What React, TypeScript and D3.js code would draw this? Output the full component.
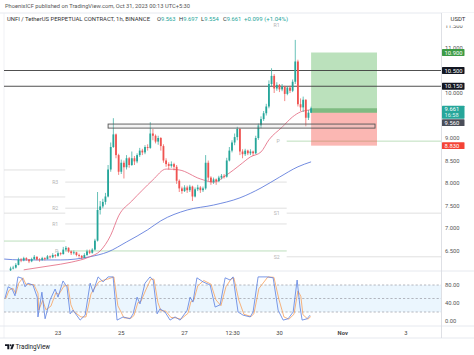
import React from "react";
import * as d3 from "d3";

const W = 474;
const H = 355;
const FONT = "Roboto, 'Liberation Sans', Arial, sans-serif";
const UTC = (m: number, d: number, h = 0, mi = 0) => new Date(Date.UTC(2023, m, d, h, mi));

// ---------- data ----------
const firstCandle = UTC(9, 21, 12); // 2h steps
const stepHours = 2;
const firstOpen = 6.06;
const closes = [
  6.10, 6.12, 6.18, 6.30, 6.28, 6.33, 6.30, 6.26, 6.31, 6.36,
  6.30, 6.29, 6.33, 6.31, 6.37, 6.35, 6.40, 6.38, 6.44, 6.42,
  6.52, 6.56, 6.48, 6.44, 6.46, 6.40, 6.38, 6.34, 6.40, 6.48,
  6.45, 6.52, 6.72, 7.40, 7.48, 7.58, 7.70, 8.30, 8.80, 9.08,
  8.62, 8.25, 8.45, 8.35, 8.55, 8.40, 8.55, 8.48, 8.62, 8.72,
  8.68, 8.80, 8.78, 9.10, 9.05, 8.92, 9.00, 8.82, 8.50, 8.42,
  8.38, 8.42, 8.36, 8.05, 7.88, 7.82, 7.90, 7.84, 7.92, 7.70,
  7.86, 7.90, 7.84, 7.88, 8.45, 8.12, 8.02, 8.08, 8.04, 8.12,
  8.16, 8.14, 8.50, 8.72, 8.90, 9.02, 9.20, 8.70, 8.64, 8.72,
  8.66, 8.70, 8.66, 9.00, 9.28, 9.42, 9.55, 9.70, 10.20, 10.38,
  10.10, 10.18, 10.08, 10.14, 9.98, 10.12, 10.05, 10.25, 10.70, 9.75,
  9.68, 9.85, 9.45, 9.563, 9.661,
];
const highs = [
  6.14, 6.16, 6.22, 6.34, 6.33, 6.36, 6.35, 6.31, 6.34, 6.40,
  6.37, 6.33, 6.36, 6.35, 6.40, 6.39, 6.44, 6.42, 6.48, 6.46,
  6.58, 6.60, 6.57, 6.50, 6.50, 6.47, 6.43, 6.40, 6.44, 6.52,
  6.52, 6.55, 6.76, 7.80, 7.60, 7.65, 7.78, 8.40, 8.90, 9.44,
  9.10, 8.65, 8.52, 8.50, 8.62, 8.58, 8.70, 8.60, 8.66, 8.78,
  8.76, 8.84, 8.86, 9.35, 9.20, 9.08, 9.05, 9.02, 8.86, 8.55,
  8.46, 8.48, 8.45, 8.40, 8.08, 7.92, 7.95, 7.94, 7.96, 7.94,
  7.90, 7.96, 7.93, 7.92, 8.62, 8.50, 8.15, 8.12, 8.10, 8.16,
  8.20, 8.20, 8.56, 8.80, 8.95, 9.10, 9.25, 9.22, 8.75, 8.76,
  8.74, 8.75, 8.72, 9.05, 9.32, 9.48, 9.60, 9.76, 10.28, 10.55,
  10.42, 10.24, 10.20, 10.20, 10.16, 10.15, 10.16, 10.30, 11.18, 10.74,
  9.88, 9.92, 9.86, 9.62, 9.697,
];
const lows = [
  6.04, 6.08, 6.10, 6.17, 6.24, 6.26, 6.27, 6.22, 6.24, 6.29,
  6.28, 6.25, 6.27, 6.28, 6.30, 6.32, 6.33, 6.34, 6.36, 6.39,
  6.41, 6.48, 6.45, 6.40, 6.41, 6.37, 6.34, 6.31, 6.33, 6.38,
  6.42, 6.43, 6.50, 6.70, 7.30, 7.44, 7.52, 7.68, 8.25, 8.78,
  8.55, 8.18, 8.20, 8.10, 8.30, 8.34, 8.38, 8.40, 8.44, 8.58,
  8.62, 8.64, 8.72, 8.76, 8.95, 8.88, 8.85, 8.72, 8.45, 8.36,
  8.30, 8.34, 8.28, 7.98, 7.80, 7.76, 7.80, 7.78, 7.80, 7.60,
  7.68, 7.82, 7.78, 7.80, 7.85, 8.05, 7.96, 7.98, 7.96, 8.02,
  8.08, 8.10, 8.12, 8.48, 8.68, 8.84, 8.95, 8.62, 8.55, 8.60,
  8.62, 8.62, 8.60, 8.64, 8.96, 9.22, 9.38, 9.50, 9.66, 10.15,
  10.00, 10.05, 10.02, 10.04, 9.82, 9.95, 10.00, 10.02, 10.20, 9.70,
  9.60, 9.58, 9.26, 9.40, 9.554,
];

const emaFastIdx = [5, 15, 23, 30, 34, 38, 41, 46, 50, 54, 59, 64, 72, 77, 82, 87, 91, 95, 98, 103, 107, 110, 113, 114];
const emaFastVal = [6.07, 6.16, 6.24, 6.36, 6.49, 6.84, 7.27, 7.6, 7.84, 8.07, 8.31, 8.29, 8.09, 8.02, 8.18, 8.4, 8.58, 8.69, 8.96, 9.24, 9.47, 9.58, 9.62, 9.63];
const emaSlowIdx = [-2.4, 4, 19, 30, 37, 44, 52, 57, 67, 77, 87, 95, 102, 109, 114];
const emaSlowVal = [6.31, 6.29, 6.29, 6.36, 6.47, 6.69, 6.96, 7.16, 7.4, 7.51, 7.67, 7.89, 8.13, 8.36, 8.47];

const stochIdx = [
  -2.1, -0.9, 0.6, 1.7, 2.8, 4.4, 5.5, 6.6, 8.5, 10.1,
  10.4, 11.9, 13.1, 15, 16.9, 18, 19.9, 21.4, 22.6, 23.7,
  26.4, 28.3, 30.2, 31.3, 33.2, 35.1, 37, 38.9, 40.4, 42.7,
  45.3, 46.5, 48, 49.1, 51, 52.9, 54.1, 55.6, 56.7, 58.6,
  60.5, 62.4, 64.3, 67, 68.1, 69.2, 70.7, 73, 75.7, 77.6,
  79.5, 81.4, 83.3, 84.4, 86.3, 88.2, 90.9, 92, 93.9, 97.3,
  99.6, 101.5, 103.4, 105.3, 107.2, 108.7, 109.8, 110.6, 112.5, 113.6,
];
const stochK = [
  51, 76, 71, 56, 98, 95, 76, 84, 80, 53,
  9, 64, 5, 47, 71, 53, 89, 76, 16, 24,
  2, 13, 84, 64, 98, 87, 98, 98, 2, 9,
  5, 16, 53, 38, 84, 98, 91, 16, 27, 20,
  2, 9, 2, 24, 53, 42, 96, 87, 80, 31,
  36, 96, 91, 98, 20, 13, 9, 20, 98, 98,
  96, 24, 2, 5, 20, 91, 31, 2, 5, 13,
];
const stochD = [
  50, 68, 73, 61, 84, 96, 82, 81, 81, 62,
  24, 46, 25, 33, 63, 59, 77, 80, 36, 21,
  9, 9, 60, 71, 87, 91, 94, 98, 34, 7,
  6, 12, 41, 43, 69, 93, 93, 41, 23, 22,
  8, 7, 4, 17, 43, 46, 78, 90, 82, 47,
  34, 76, 93, 96, 46, 15, 10, 16, 72, 98,
  97, 48, 9, 4, 15, 67, 55, 14, 4, 10,
];

const priceTicks = [6.5, 7, 7.5, 8, 8.5, 9, 9.5, 10, 10.5, 11, 11.5];
const stochTicks = [80, 40, 0];
const stochLevels = [80, 50, 20];
const timeTickDates = [UTC(9, 23), UTC(9, 25), UTC(9, 27), UTC(9, 28, 12, 30), UTC(9, 30), UTC(10, 1), UTC(10, 3)];
const timeTickLabels = ["23", "25", "27", "12:30", "30", "Nov", "3"];

// weekly pivots
const pivotStarts = [UTC(9, 16, 5, 30), UTC(9, 23, 5, 30), UTC(9, 30, 5, 30), UTC(10, 6, 5, 30)];
const pivotNames = [
  ["R3", "R2", "R1", "P"],
  ["R3", "R2", "R1", "P"],
  ["R1", "P", "S1", "S2"],
];
const pivotValues = [
  [8.29, 7.69, 7.33, 6.71],
  [8.02, 7.44, 7.09, 6.49],
  [11.51, 8.93, 7.33, 6.36],
];
const pivotHiddenLine = ["R1"]; // top level of last week: label only

const hLines = [10.5, 10.15];
const zoneStart = UTC(9, 24, 14);
const zoneEnd = UTC(10, 2, 0, 30);
const zoneTop = 9.31;
const zoneBottom = 9.22;
const posStart = UTC(9, 31);
const posEnd = UTC(10, 2, 2);
const posTarget = 10.9;
const posEntry = 9.56;
const posStop = 8.83;
const lastPrice = 9.661;

const header1 = "PhoenixICF published on TradingView.com, Oct 31, 2023 00:13 UTC+5:30";
const header2 = "UNFI / TetherUS PERPETUAL CONTRACT, 1h, BINANCE";
const ohlcLabels = ["O", "H", "L", "C"];
const ohlcValues = ["9.563", "9.697", "9.554", "9.661"];
const changeText = "+0.099 (+1.04%)";

// ---------- component ----------
export default function App() {
  const PL = 4, PR = 441, PT = 13, PB = 271;
  const SB = 326, TB = 338;
  const x = d3.scaleTime().domain([UTC(9, 23), UTC(10, 3)]).range([58, 406]);
  const y = d3.scaleLinear().domain([6, 10]).range([273, 93]);
  const ys = d3.scaleLinear().domain([0, 100]).range([321, 276]);
  const idxDate = (i: number) => new Date(firstCandle.getTime() + i * stepHours * 3600e3);
  const cx = (i: number) => x(idxDate(i));
  const fmt = d3.format(".3f");

  const up = "#26a69a";
  const down = "#ef5350";
  const bw = 1.8;

  const fastPts = emaFastIdx.map((i, k) => [cx(i), y(emaFastVal[k])] as [number, number]);
  const slowPts = emaSlowIdx.map((i, k) => [cx(i), y(emaSlowVal[k])] as [number, number]);
  const lineGen = d3.line().curve(d3.curveMonotoneX);
  const lineLin = d3.line();
  const kPts = stochIdx.map((i, k) => [cx(i), ys(stochK[k])] as [number, number]);
  const dPts = stochIdx.map((i, k) => [cx(i) + 0.8, ys(stochD[k])] as [number, number]);

  const tags = [
    { v: 10.9, text: "10.900", fill: "#3d9b46" },
    { v: 10.5, text: "10.500", fill: "#131722" },
    { v: 10.15, text: "10.150", fill: "#131722" },
    { v: 8.83, text: "8.830", fill: "#f44336" },
  ];

  return (
    <svg
      width={W}
      height={H}
      style={{ position: "absolute", left: 0, top: 0, background: "#fff", fontFamily: FONT }}
    >
      <defs>
        <clipPath id="mainClip">
          <rect x={PL} y={PT} width={PR - PL} height={PB - PT} />
        </clipPath>
        <clipPath id="stochClip">
          <rect x={PL} y={PB + 1} width={PR - PL} height={SB - PB - 1} />
        </clipPath>
      </defs>
      <rect x={0} y={0} width={W} height={H} fill="#fff" />

      {/* header */}
      <text x={5} y={8.3} fontSize={5.6} fill="#555" textLength={185} lengthAdjust="spacingAndGlyphs">
        {header1}
      </text>
      <text x={7} y={21.2} fontSize={5.8} fill="#333" textLength={143} lengthAdjust="spacingAndGlyphs">
        {header2}
      </text>
      {ohlcLabels.map((l, k) => (
        <text key={l} x={157 + k * 22} y={21.2} fontSize={5.8}>
          <tspan fill="#333">{l}</tspan>
          <tspan fill={up}>{ohlcValues[k]}</tspan>
        </text>
      ))}
      <text x={244} y={21.2} fontSize={5.8} fill={up} textLength={44} lengthAdjust="spacingAndGlyphs">
        {changeText}
      </text>

      {/* pane borders */}
      <line x1={0} x2={W} y1={PT} y2={PT} stroke="#e0e3eb" strokeWidth={0.8} />
      <line x1={PL} x2={PL} y1={PT} y2={TB} stroke="#eceef3" strokeWidth={0.8} />
      <line x1={0} x2={W} y1={PB} y2={PB} stroke="#e0e3eb" strokeWidth={0.8} />
      <line x1={0} x2={W} y1={SB} y2={SB} stroke="#e0e3eb" strokeWidth={0.8} />
      <line x1={0} x2={W} y1={TB} y2={TB} stroke="#e0e3eb" strokeWidth={0.8} />
      <line x1={PR + 0.5} x2={PR + 0.5} y1={PT} y2={TB} stroke="#d6d8de" strokeWidth={0.8} />

      {/* main pane */}
      <g clipPath="url(#mainClip)">
        {/* pivots */}
        {pivotValues.map((vals, p) =>
          vals.map((v, k) => {
            const name = pivotNames[p][k];
            const x1 = Math.max(PL, x(pivotStarts[p]));
            const x2 = Math.min(PR, x(pivotStarts[p + 1]));
            const showLine = !(p === 2 && pivotHiddenLine.includes(name));
            return (
              <g key={`pv${p}-${k}`}>
                {showLine && (
                  <line
                    x1={x1}
                    x2={x2}
                    y1={y(v)}
                    y2={y(v)}
                    stroke={name === "P" ? "#b6dbb4" : "#dcdcdc"}
                    strokeWidth={0.9}
                  />
                )}
                {p > 0 && (
                  <text x={x(pivotStarts[p]) - 7} y={y(v) + 2} fontSize={5.2} fill="#b5b5b5" textAnchor="end">
                    {name}
                  </text>
                )}
              </g>
            );
          })
        )}

        {/* long position */}
        <rect x={x(posStart)} width={x(posEnd) - x(posStart)} y={y(posTarget)} height={y(posEntry) - y(posTarget)} fill="rgba(76,175,80,0.38)" />
        <rect x={x(posStart)} width={x(posEnd) - x(posStart)} y={y(lastPrice)} height={y(posEntry) - y(lastPrice)} fill="rgba(56,142,60,0.45)" />
        <rect x={x(posStart)} width={x(posEnd) - x(posStart)} y={y(posEntry)} height={y(posStop) - y(posEntry)} fill="rgba(244,67,54,0.38)" />

        {/* horizontal lines */}
        {hLines.map((v) => (
          <line key={v} x1={PL} x2={PR} y1={y(v)} y2={y(v)} stroke="#3c3c3c" strokeWidth={0.9} />
        ))}

        {/* moving averages */}
        <path d={lineGen(slowPts) || ""} fill="none" stroke="#4f6fd8" strokeWidth={0.8} />
        <path d={lineGen(fastPts) || ""} fill="none" stroke="#e2637c" strokeWidth={0.8} />

        {/* candles */}
        {closes.map((c, i) => {
          const o = i === 0 ? firstOpen : closes[i - 1];
          const col = c >= o ? up : down;
          const xc = cx(i);
          const top = y(Math.max(o, c));
          const h = Math.max(0.7, Math.abs(y(o) - y(c)));
          return (
            <g key={`c${i}`}>
              <line x1={xc} x2={xc} y1={y(highs[i])} y2={y(lows[i])} stroke={col} strokeWidth={0.7} />
              <rect x={xc - bw / 2} y={top} width={bw} height={h} fill={col} />
            </g>
          );
        })}

        {/* support zone */}
        <rect
          x={x(zoneStart)}
          width={x(zoneEnd) - x(zoneStart)}
          y={y(zoneTop)}
          height={y(zoneBottom) - y(zoneTop)}
          fill="rgba(210,210,210,0.25)"
          stroke="#555"
          strokeWidth={0.9}
        />
      </g>

      {/* stoch pane */}
      <rect x={PL} width={PR - PL} y={ys(80)} height={ys(20) - ys(80)} fill="rgba(33,150,243,0.09)" />
      {stochLevels.map((v) => (
        <line key={v} x1={PL} x2={PR} y1={ys(v)} y2={ys(v)} stroke="#a3a6af" strokeWidth={0.8} strokeDasharray="2.2,2" />
      ))}
      <g clipPath="url(#stochClip)">
        <path d={lineLin(dPts) || ""} fill="none" stroke="#f7a15c" strokeWidth={0.8} />
        <path d={lineLin(kPts) || ""} fill="none" stroke="#5b7fe0" strokeWidth={0.8} />
      </g>

      {/* price axis */}
      {priceTicks.map((v) => (
        <text key={v} x={445} y={y(v) + 2} fontSize={5.8} fill="#555">
          {fmt(v)}
        </text>
      ))}
      {tags.map((t) => (
        <g key={t.text}>
          <rect x={442} y={y(t.v) - 3.4} width={22.5} height={6.8} fill={t.fill} rx={0.6} />
          <text x={444.6} y={y(t.v) + 2} fontSize={5.8} fill="#fff">
            {t.text}
          </text>
        </g>
      ))}
      <rect x={442} y={y(lastPrice) - 2.6} width={22.5} height={13} fill={up} rx={0.6} />
      <text x={444.6} y={y(lastPrice) + 2.7} fontSize={5.8} fill="#fff">
        {fmt(lastPrice)}
      </text>
      <text x={444.6} y={y(lastPrice) + 8.6} fontSize={5.6} fill="#dff3f0">
        16:58
      </text>
      <rect x={442} y={y(lastPrice) + 11} width={22.5} height={6.8} fill="#4a4e59" rx={0.6} />
      <text x={444.6} y={y(lastPrice) + 16.3} fontSize={5.8} fill="#fff">
        {fmt(posEntry)}
      </text>
      <rect x={442} y={PT} width={W - 442} height={12.5} fill="#fff" />
      <text x={458} y={21} fontSize={6} fill="#333" textAnchor="middle">
        USDT
      </text>

      {/* stoch axis */}
      {stochTicks.map((v) => (
        <text key={v} x={445} y={ys(v) + 2} fontSize={5.8} fill="#555">
          {d3.format(".2f")(v)}
        </text>
      ))}

      {/* time axis */}
      {timeTickDates.map((d, k) => (
        <text
          key={k}
          x={x(d)}
          y={335}
          fontSize={5.8}
          fill="#444"
          textAnchor="middle"
          fontWeight={timeTickLabels[k] === "Nov" ? "bold" : "normal"}
        >
          {timeTickLabels[k]}
        </text>
      ))}

      {/* logo */}
      <path d="M5 344.3 h4.3 v5 h-2 v-3.2 h-2.3 z" fill="#131722" />
      <circle cx={10.6} cy={345.3} r={0.95} fill="#131722" />
      <path d="M12.2 344.3 h2.2 l-2 5 h-2.2 z" fill="#131722" />
      <text x={15.5} y={349.2} fontSize={6.4} fill="#131722" textLength={34.5} lengthAdjust="spacingAndGlyphs">
        TradingView
      </text>
    </svg>
  );
}
